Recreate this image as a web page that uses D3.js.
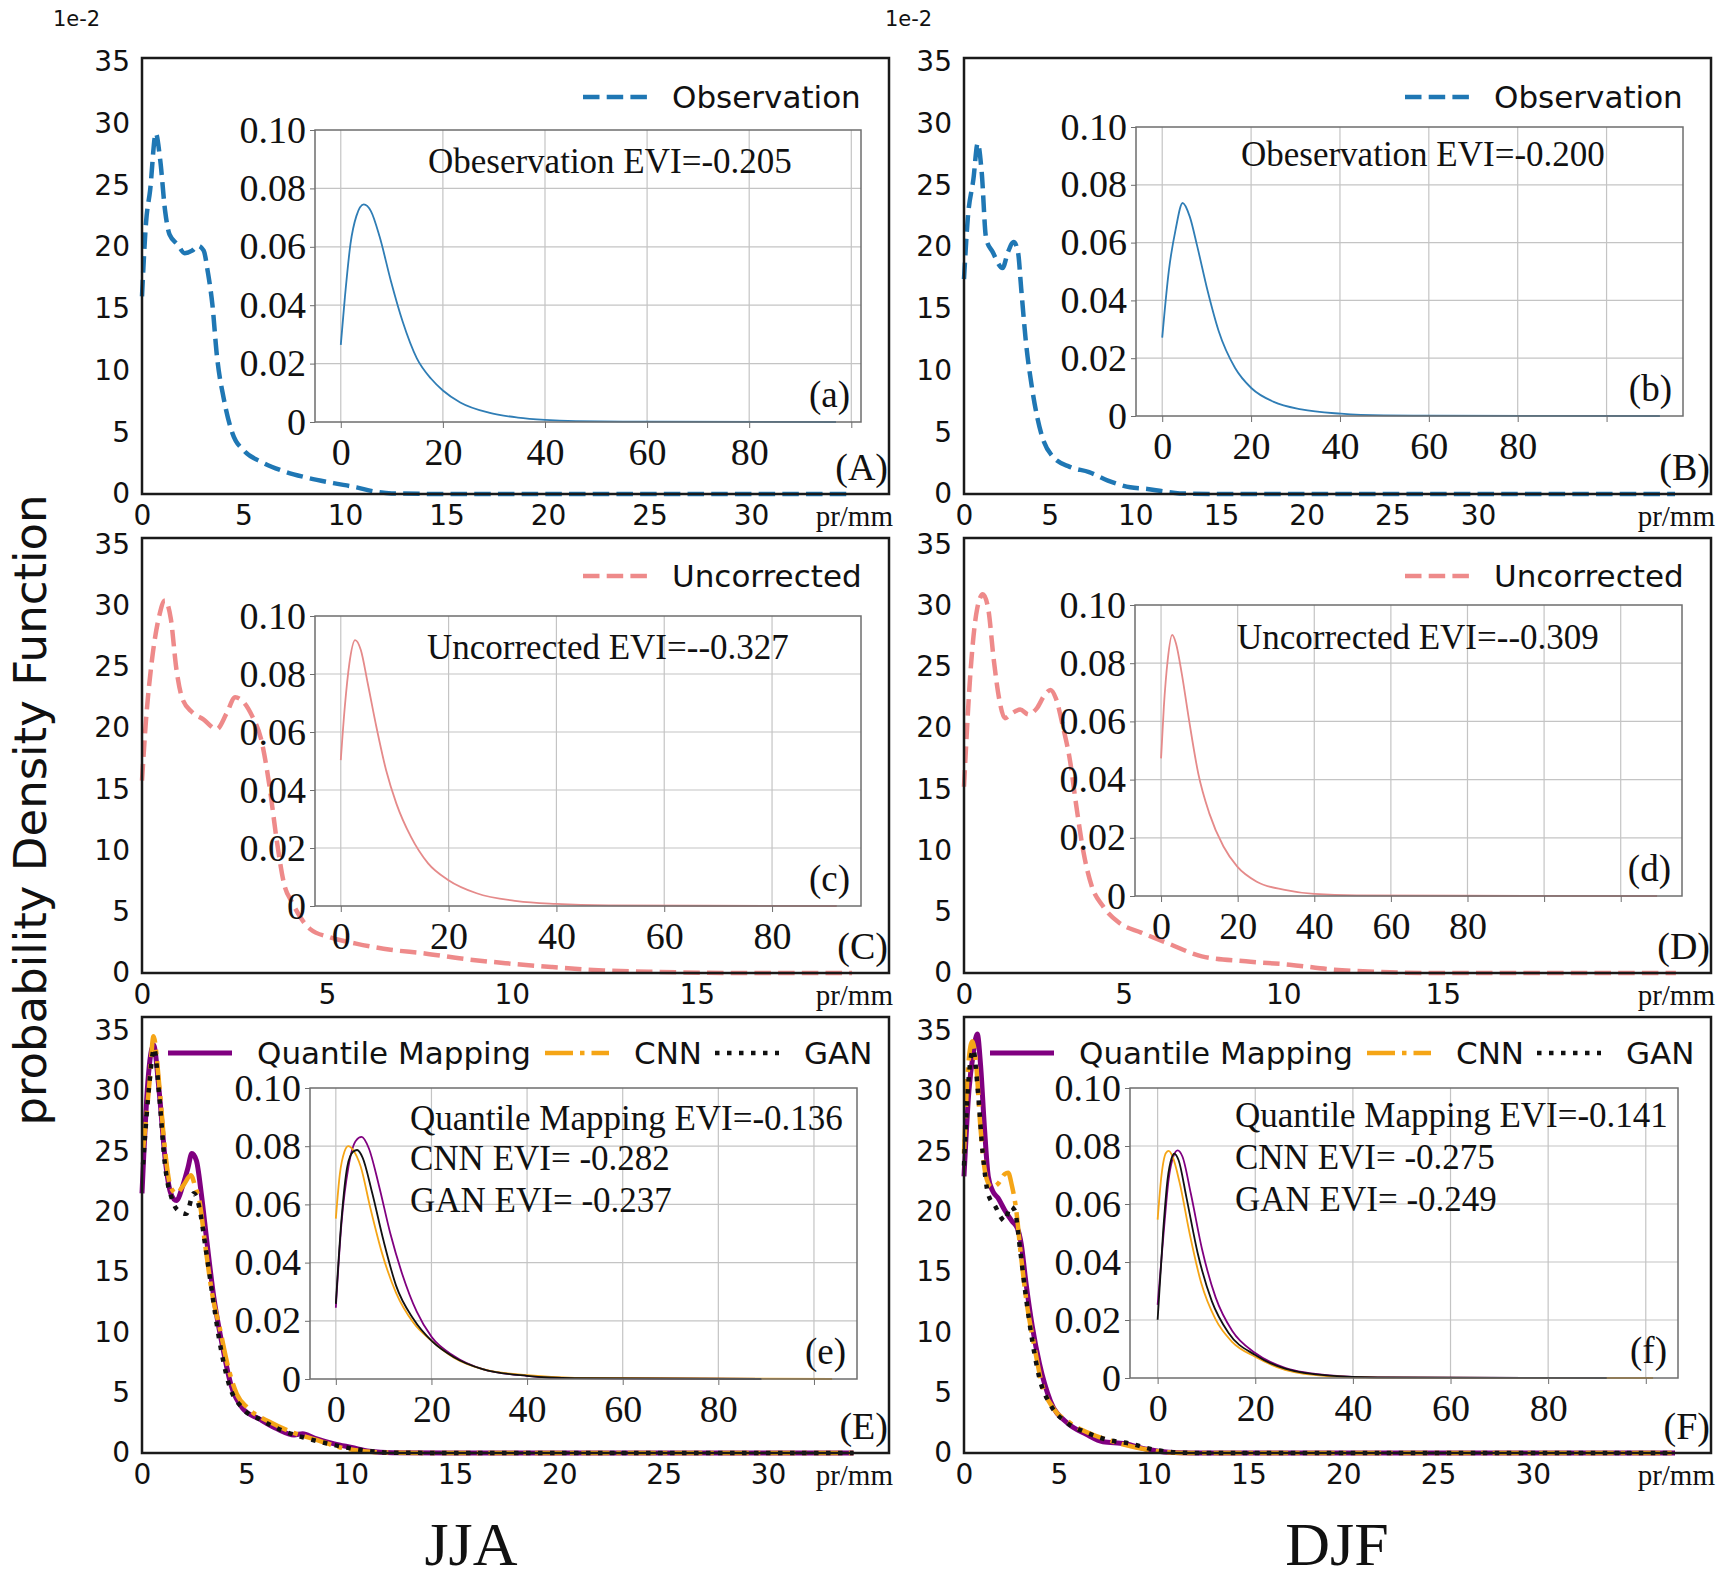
<!DOCTYPE html>
<html>
<head>
<meta charset="utf-8">
<script src="https://cdn.jsdelivr.net/npm/d3@7"></script>
<style>
  body { margin: 0; background: #fff; }
</style>
</head>
<body>
<div id="chart"></div>
<script>
// ---- main panels: x in pr/mm, y in units of 1e-2 ----
var obsJJA = [[0,16],[0.2,22],[0.4,24.6],[0.68,29.2],[0.9,27],[1.14,22.9],[1.36,21],[1.76,20.2],[2.1,19.5],[2.47,19.7],[2.76,20.1],[3.04,19.7],[3.24,18],[3.47,15.3],[3.69,11.2],[4.03,7.7],[4.46,4.9],[5.03,3.5],[5.88,2.6],[6.88,1.9],[8,1.37],[9.43,0.88],[10.57,0.54],[11.4,0.22],[12.3,0.05],[15,0],[20,0],[25,0],[30,0],[35,0]]
var obsDJF = [[0,17.4],[0.22,22.3],[0.55,25.5],[0.8,28.4],[1.03,26.1],[1.29,20.7],[1.67,19.6],[2.25,18.3],[2.57,19.6],[2.9,20.4],[3.15,19.6],[3.34,16.6],[3.6,12.5],[3.99,8.4],[4.57,4.6],[5.2,3.0],[6.17,2.2],[7.3,1.77],[8.4,1.09],[9.7,0.54],[10.7,0.41],[11.6,0.22],[12.6,0.05],[15,0],[20,0],[30,0],[41.5,0]]
var uncJJA = [[0,15.7],[0.11,20.7],[0.26,25.3],[0.47,29.2],[0.62,30.4],[0.78,28.9],[0.93,24.8],[1.09,22.4],[1.35,21.3],[1.66,20.7],[2.02,19.9],[2.29,21.2],[2.52,22.5],[2.75,22.1],[2.99,20.9],[3.22,19.1],[3.45,15.2],[3.64,10.9],[3.84,7.3],[4.07,5.7],[4.54,3.6],[5.09,2.9],[5.79,2.4],[6.72,1.9],[7.65,1.6],[8.58,1.2],[9.83,0.8],[11.07,0.49],[12.47,0.21],[14,0.08],[16.4,0],[19.2,0]]
var uncDJF = [[0,15.2],[0.21,24.8],[0.41,29.7],[0.59,30.9],[0.76,29.7],[0.93,25.6],[1.1,22.4],[1.28,20.8],[1.5,21.2],[1.76,21.5],[2.02,21.1],[2.28,21.6],[2.53,22.7],[2.71,23.1],[2.88,22.4],[3.1,20.1],[3.31,17.5],[3.52,13.6],[3.74,9.9],[4,7.1],[4.34,5.5],[4.86,4.1],[5.55,3.3],[6.41,2.4],[7.45,1.36],[8.83,0.95],[10.2,0.68],[11.6,0.27],[13.1,0.08],[14.9,0],[22.3,0]]
var qmJJA = [[0,21.5],[0.28,30.7],[0.55,33.8],[0.83,29.8],[1.1,24.5],[1.38,21.5],[1.65,20.9],[1.93,22],[2.2,23.6],[2.39,24.8],[2.61,24.2],[2.84,21.5],[3.11,17.5],[3.44,12.9],[3.85,8.9],[4.27,5.6],[4.82,3.7],[5.64,2.8],[6.47,2],[7.29,1.5],[7.7,1.6],[8.26,1.24],[9.22,0.76],[10.05,0.46],[10.9,0.15],[12,0.03],[15,0],[20,0],[25,0],[30,0],[34.1,0]]
var cnnJJA = [[0.05,25.1],[0.36,30.7],[0.55,34.5],[0.83,30.4],[1.1,25.1],[1.38,22],[1.65,21.5],[2,22.2],[2.34,23],[2.56,22],[2.75,20.9],[3.03,17.2],[3.39,12.9],[3.72,10.4],[4.13,7.1],[4.54,4.9],[5.09,3.7],[6.2,2.5],[7.3,1.65],[8.4,1.07],[9.5,0.46],[10.6,0.15],[12,0.03],[15,0],[20,0],[25,0],[30,0],[34.1,0]]
var ganJJA = [[0.05,23.9],[0.36,30.7],[0.58,33.5],[0.83,29.5],[1.1,23.9],[1.46,20.9],[1.79,20],[2.12,19.8],[2.48,21.5],[2.75,20.3],[3.03,17.2],[3.39,12.9],[3.72,9.2],[4.13,5.9],[4.82,3.7],[5.64,2.8],[6.74,1.85],[7.84,1.24],[8.95,0.76],[10.05,0.37],[11.1,0.12],[12,0.03],[15,0],[20,0],[25,0],[30,0],[34.1,0]]
var qmDJF = [[0,22.9],[0.26,30],[0.49,33.1],[0.7,34.7],[0.87,32.2],[1.08,26.9],[1.28,22.9],[1.51,21.7],[1.8,21.1],[2.15,20.1],[2.53,19.2],[2.82,18.6],[3.02,17.3],[3.26,14.2],[3.6,10.5],[3.98,7.4],[4.56,4.3],[5.44,2.5],[6.45,1.55],[7.33,0.93],[8.49,0.77],[9.65,0.31],[10.8,0.06],[12,0],[20,0],[30,0],[37.5,0]]
var cnnDJF = [[0,24.8],[0.2,31.6],[0.44,34.1],[0.64,32.2],[0.87,26.9],[1.16,22.9],[1.45,22],[1.8,22.3],[2.15,23.1],[2.33,23.2],[2.53,22.1],[2.73,20.4],[3.02,16.1],[3.31,12.4],[3.69,9],[4.13,5.6],[4.71,3.7],[5.58,2.5],[6.74,1.55],[7.9,0.93],[9.07,0.46],[10.2,0.15],[11.5,0],[20,0],[30,0],[37.5,0]]
var ganDJF = [[0,23.8],[0.23,30.7],[0.49,33.4],[0.73,30],[0.99,24.8],[1.28,21.4],[1.66,20.4],[1.95,19.5],[2.15,19.2],[2.44,20.4],[2.67,20.1],[2.97,16.7],[3.26,13],[3.6,9.3],[3.98,6.2],[4.56,4],[5.44,2.5],[6.45,1.7],[7.6,1.08],[8.8,0.77],[9.9,0.31],[11.1,0.06],[12.5,0],[20,0],[30,0],[37.5,0]]

// ---- insets: x in pr/mm, y probability density ----
var obsJJAInset = [[0,0.0264],[0.8,0.0426],[1.9,0.061],[3.05,0.0705],[4.5,0.0745],[5.9,0.0722],[7.6,0.0635],[9.8,0.0484],[12.1,0.0345],[14.9,0.0218],[17.7,0.0148],[20,0.0108],[23.4,0.0067],[29,0.0032],[34.7,0.0015],[40,0.0007],[46,0.0003],[60,0.0001],[97,0]]
var obsDJFInset = [[0,0.0271],[1.5,0.0504],[3,0.0644],[4.6,0.0737],[6.2,0.069],[7.9,0.0586],[10.2,0.0434],[12.7,0.0294],[16.4,0.0166],[20.1,0.0096],[25.1,0.0049],[31.3,0.0023],[40.2,0.0008],[49.9,0.0002],[60,0.0001],[112,0]]
var uncJJAInset = [[0,0.0503],[0.75,0.0687],[1.6,0.0837],[2.66,0.0917],[3.72,0.0883],[5,0.0768],[6.6,0.0618],[8.4,0.0469],[10.3,0.0354],[13,0.0239],[16.2,0.0147],[19.9,0.009],[25.2,0.0044],[32.7,0.0017],[39.9,0.0007],[49.7,0.0002],[92,0]]
var uncDJFInset = [[0,0.0473],[0.73,0.065],[1.74,0.0811],[2.9,0.0897],[3.9,0.0868],[5.4,0.0765],[7.3,0.0605],[9.7,0.0422],[12.6,0.0284],[16.3,0.017],[19.9,0.0101],[25,0.0049],[32.3,0.0021],[40,0.0007],[51,0.0002],[129.5,0]]
var qmJJAInset = [[0,0.0245],[1.2,0.0538],[2.65,0.073],[4.2,0.0819],[5.4,0.0832],[6.9,0.0793],[9,0.0666],[11.4,0.05],[13.9,0.036],[16.9,0.0232],[20.1,0.0143],[24.7,0.0079],[30.7,0.0034],[40,0.0011],[50,0.0003],[89,0]]
var cnnJJAInset = [[0,0.0551],[0.84,0.0704],[1.8,0.0781],[2.6,0.08],[3.6,0.0787],[5.2,0.073],[7.2,0.0589],[9.6,0.0436],[12.6,0.0296],[16.2,0.0194],[20.1,0.013],[24.7,0.0073],[30.7,0.0034],[40,0.0013],[50,0.0004],[103.8,0]]
var ganJJAInset = [[0,0.0258],[1.2,0.0551],[2.4,0.073],[3.6,0.0781],[4.45,0.0787],[5.6,0.0761],[7.6,0.064],[10,0.0474],[12.6,0.0321],[16.2,0.0207],[20.1,0.013],[24.7,0.0075],[30.7,0.0034],[40,0.0011],[50,0.0003],[89,0]]
var qmDJFInset = [[0,0.0252],[1.14,0.0482],[2.27,0.0687],[3.2,0.0763],[4.1,0.0785],[5.1,0.0763],[6.8,0.0636],[9.1,0.0444],[11.9,0.0277],[15.3,0.0162],[20,0.0086],[26.1,0.0035],[35.2,0.0009],[45,0.0002],[92,0]]
var cnnDJFInset = [[0,0.0546],[0.8,0.07],[1.7,0.0776],[2.27,0.0783],[3.07,0.0763],[4.5,0.0674],[6.6,0.0495],[8.9,0.0329],[11.9,0.0201],[15.3,0.0124],[20,0.0073],[26.1,0.0028],[35.2,0.0006],[45,0.0001],[101.5,0]]
var ganDJFInset = [[0,0.0201],[1.14,0.0508],[2.05,0.0687],[2.84,0.0757],[3.4,0.0774],[4.3,0.0751],[5.9,0.0623],[8.2,0.0431],[11.1,0.0265],[14.5,0.0156],[20,0.0079],[26.1,0.0032],[35.2,0.0008],[45,0.0002],[92,0]]

// ---- ticks and texts ----
var mainYTicks = [0, 5, 10, 15, 20, 25, 30, 35]
var xTicksWide = [0, 5, 10, 15, 20, 25, 30]
var xTicksNarrow = [0, 5, 10, 15]
var insetYTicks = [0, 0.02, 0.04, 0.06, 0.08, 0.10]
var insetXLabels = [0, 20, 40, 60, 80]
var seasons = ['JJA', 'DJF']
var notesA = ['Obeservation EVI=-0.205']
var notesB = ['Obeservation EVI=-0.200']
var notesC = ['Uncorrected EVI=--0.327']
var notesD = ['Uncorrected EVI=--0.309']
var notesE = ['Quantile Mapping EVI=-0.136', 'CNN EVI= -0.282', 'GAN EVI= -0.237']
var notesF = ['Quantile Mapping EVI=-0.141', 'CNN EVI= -0.275', 'GAN EVI= -0.249']

var SANS = 'DejaVu Sans', SERIF = 'Liberation Serif'
var W = 1725, H = 1582

var styles = {
    obs: { color: '#1f77b4', width: 4.5, dash: '16.5,7.2' },
    unc: { color: '#ee8a8a', width: 4.5, dash: '16.5,7.2' },
    qm: { color: '#800080', width: 5, dash: null },
    cnn: { color: '#f5a516', width: 4.5, dash: '28,7,4.5,7' },
    gan: { color: '#111111', width: 4.5, dash: '4.5,7.5' },
    obsI: { color: '#2f7db5', width: 1.8, dash: null },
    uncI: { color: '#e58a8a', width: 1.8, dash: null },
    qmI: { color: '#800080', width: 1.8, dash: null },
    cnnI: { color: '#f5a516', width: 1.8, dash: null },
    ganI: { color: '#111111', width: 1.8, dash: null }
}

var cols = [142, 964], colW = 747
var rows = [{ top: 58, bottom: 494 }, { top: 538, bottom: 973 }, { top: 1017, bottom: 1453 }]

var legendObs = [{ s: 'obs', name: 'Observation', x: 441 }]
var legendUnc = [{ s: 'unc', name: 'Uncorrected', x: 441 }]
var legendCorr = [{ s: 'qm', name: 'Quantile Mapping', x: 26 }, { s: 'cnn', name: 'CNN', x: 403 }, { s: 'gan', name: 'GAN', x: 573 }]

var panels = [
    { col: 0, row: 0, xMax: 36.8, yMax: 35.3, xTicks: xTicksWide, label: '(A)', legend: legendObs, legendY: 97,
      lines: [[obsJJA, 'obs']],
      inset: { left: 315, right: 861, top: 130, bottom: 422, xMin: -5.05, xMax: 101.9, label: '(a)',
               lines: [[obsJJAInset, 'obsI']], notes: notesA, noteX: 113, noteY: [31] } },
    { col: 1, row: 0, xMax: 43.6, yMax: 35.3, xTicks: xTicksWide, label: '(B)', legend: legendObs, legendY: 97,
      lines: [[obsDJF, 'obs']],
      inset: { left: 1136, right: 1683, top: 127, bottom: 416, xMin: -5.9, xMax: 117.2, label: '(b)',
               lines: [[obsDJFInset, 'obsI']], notes: notesB, noteX: 105, noteY: [27] } },
    { col: 0, row: 1, xMax: 20.2, yMax: 35.5, xTicks: xTicksNarrow, label: '(C)', legend: legendUnc, legendY: 576,
      lines: [[uncJJA, 'unc']],
      inset: { left: 315, right: 861, top: 616, bottom: 906, xMin: -4.78, xMax: 96.5, label: '(c)',
               lines: [[uncJJAInset, 'uncI']], notes: notesC, noteX: 112, noteY: [31] } },
    { col: 1, row: 1, xMax: 23.4, yMax: 35.5, xTicks: xTicksNarrow, label: '(D)', legend: legendUnc, legendY: 576,
      lines: [[uncDJF, 'unc']],
      inset: { left: 1135, right: 1682, top: 605, bottom: 896, xMin: -6.8, xMax: 136, label: '(d)',
               lines: [[uncDJFInset, 'uncI']], notes: notesD, noteX: 102, noteY: [32] } },
    { col: 0, row: 2, xMax: 35.8, yMax: 36.1, xTicks: xTicksWide, label: '(E)', legend: legendCorr, legendY: 1053,
      lines: [[qmJJA, 'qm'], [cnnJJA, 'cnn'], [ganJJA, 'gan']],
      inset: { left: 310, right: 857, top: 1088, bottom: 1379, xMin: -5.4, xMax: 109, label: '(e)',
               lines: [[qmJJAInset, 'qmI'], [cnnJJAInset, 'cnnI'], [ganJJAInset, 'ganI']], notes: notesE, noteX: 100, noteY: [30, 70, 112] } },
    { col: 1, row: 2, xMax: 39.4, yMax: 36.1, xTicks: xTicksWide, label: '(F)', legend: legendCorr, legendY: 1053,
      lines: [[qmDJF, 'qm'], [cnnDJF, 'cnn'], [ganDJF, 'gan']],
      inset: { left: 1130, right: 1678, top: 1088, bottom: 1378, xMin: -5.66, xMax: 106.6, label: '(f)',
               lines: [[qmDJFInset, 'qmI'], [cnnDJFInset, 'cnnI'], [ganDJFInset, 'ganI']], notes: notesF, noteX: 105, noteY: [27, 69, 111] } }
]

var svg = d3.select('#chart').append('svg')
    .attr('width', W)
    .attr('height', H)
    .style('background', '#fff')

function applyStyle(sel, st) {
    sel.attr('fill', 'none')
        .attr('stroke', st.color)
        .attr('stroke-width', st.width)
        .attr('stroke-dasharray', st.dash)
        .attr('stroke-linejoin', 'round')
}

function drawPanel(p) {
    var left = cols[p.col], right = left + colW
    var top = rows[p.row].top, bottom = rows[p.row].bottom
    var x = d3.scaleLinear().domain([0, p.xMax]).range([left, right])
    var y = d3.scaleLinear().domain([0, p.yMax]).range([bottom, top])
    var g = svg.append('g')

    // main curves
    var line = d3.line().x(d => x(d[0])).y(d => y(d[1])).curve(d3.curveMonotoneX)
    p.lines.forEach(function (l) {
        g.append('path').datum(l[0]).attr('d', line).call(applyStyle, styles[l[1]])
    })

    // frame
    g.append('rect')
        .attr('x', left).attr('y', top)
        .attr('width', right - left).attr('height', bottom - top)
        .attr('fill', 'none').attr('stroke', '#1a1a1a').attr('stroke-width', 2.5)

    // main axes
    var yAxis = g.append('g').attr('transform', `translate(${left},0)`)
        .call(d3.axisLeft(y).tickValues(mainYTicks).tickSize(0).tickPadding(12))
    var xAxis = g.append('g').attr('transform', `translate(0,${bottom})`)
        .call(d3.axisBottom(x).tickValues(p.xTicks).tickSize(0).tickPadding(11))
    ;[yAxis, xAxis].forEach(function (a) {
        a.attr('font-family', SANS).attr('font-size', 28)
        a.select('.domain').remove()
        a.selectAll('text').attr('fill', '#111')
    })

    g.append('text')
        .attr('x', right + 4).attr('y', bottom + 22).attr('dy', '0.35em')
        .attr('text-anchor', 'end')
        .attr('font-family', SERIF).attr('font-size', 29).attr('fill', '#111')
        .text('pr/mm')

    // legend
    p.legend.forEach(function (it) {
        var lx = left + it.x
        g.append('line')
            .attr('x1', lx).attr('x2', lx + 64)
            .attr('y1', p.legendY).attr('y2', p.legendY)
            .call(applyStyle, styles[it.s])
        g.append('text')
            .attr('x', lx + 89).attr('y', p.legendY).attr('dy', '0.35em')
            .attr('font-family', SANS).attr('font-size', 31).attr('fill', '#111')
            .text(it.name)
    })

    g.append('text')
        .attr('x', right - 1).attr('y', bottom - 27).attr('dy', '0.35em')
        .attr('text-anchor', 'end')
        .attr('font-family', SERIF).attr('font-size', 38).attr('fill', '#111')
        .text(p.label)

    drawInset(p.inset)
}

function drawInset(s) {
    var xi = d3.scaleLinear().domain([s.xMin, s.xMax]).range([s.left, s.right])
    var yi = d3.scaleLinear().domain([0, 0.1]).range([s.bottom, s.top])
    var g = svg.append('g')

    g.append('rect')
        .attr('x', s.left).attr('y', s.top)
        .attr('width', s.right - s.left).attr('height', s.bottom - s.top)
        .attr('fill', '#fff')

    var gridX = d3.range(0, s.xMax, 20)
    g.selectAll('.gx').data(gridX).enter().append('line')
        .attr('x1', d => xi(d)).attr('x2', d => xi(d))
        .attr('y1', s.top).attr('y2', s.bottom)
        .attr('stroke', '#c4c4c4').attr('stroke-width', 1.2)
    g.selectAll('.gy').data(insetYTicks.slice(1, 5)).enter().append('line')
        .attr('x1', s.left).attr('x2', s.right)
        .attr('y1', d => yi(d)).attr('y2', d => yi(d))
        .attr('stroke', '#c4c4c4').attr('stroke-width', 1.2)

    var line = d3.line().x(d => xi(d[0])).y(d => yi(d[1])).curve(d3.curveMonotoneX)
    s.lines.forEach(function (l) {
        g.append('path').datum(l[0]).attr('d', line).call(applyStyle, styles[l[1]])
    })

    g.append('rect')
        .attr('x', s.left).attr('y', s.top)
        .attr('width', s.right - s.left).attr('height', s.bottom - s.top)
        .attr('fill', 'none').attr('stroke', '#6e6e6e').attr('stroke-width', 1.5)

    var ya = g.append('g').attr('transform', `translate(${s.left},0)`)
        .call(d3.axisLeft(yi).tickValues(insetYTicks).tickSize(5).tickPadding(4)
            .tickFormat(d => d === 0 ? '0' : d3.format('.2f')(d)))
    var xa = g.append('g').attr('transform', `translate(0,${s.bottom})`)
        .call(d3.axisBottom(xi).tickValues(gridX).tickSize(6).tickPadding(10)
            .tickFormat(d => insetXLabels.indexOf(d) >= 0 ? d : ''))
    ;[ya, xa].forEach(function (a) {
        a.attr('font-family', SERIF).attr('font-size', 38)
        a.select('.domain').remove()
        a.selectAll('line').attr('stroke', '#6e6e6e')
        a.selectAll('text').attr('fill', '#111')
    })

    s.notes.forEach(function (t, i) {
        g.append('text')
            .attr('x', s.left + s.noteX).attr('y', s.top + s.noteY[i]).attr('dy', '0.35em')
            .attr('font-family', SERIF).attr('font-size', 35).attr('fill', '#111')
            .text(t)
    })

    g.append('text')
        .attr('x', s.right - 11).attr('y', s.bottom - 28).attr('dy', '0.35em')
        .attr('text-anchor', 'end')
        .attr('font-family', SERIF).attr('font-size', 37).attr('fill', '#111')
        .text(s.label)
}

panels.forEach(drawPanel)

// exponent labels above each column
cols.forEach(function (c, i) {
    svg.append('text')
        .attr('x', i === 0 ? 53 : 885).attr('y', 19).attr('dy', '0.35em')
        .attr('font-family', SANS).attr('font-size', 21).attr('fill', '#111')
        .text('1e-2')
})

svg.append('text')
    .attr('transform', 'translate(30,810) rotate(-90)')
    .attr('text-anchor', 'middle').attr('dy', '0.35em')
    .attr('font-family', SANS).attr('font-size', 45).attr('fill', '#111')
    .text('probability Density Function')

seasons.forEach(function (s, i) {
    svg.append('text')
        .attr('x', i === 0 ? 471 : 1337).attr('y', 1565)
        .attr('text-anchor', 'middle')
        .attr('font-family', SERIF).attr('font-size', 62).attr('fill', '#111')
        .text(s)
})
</script>
</body>
</html>
